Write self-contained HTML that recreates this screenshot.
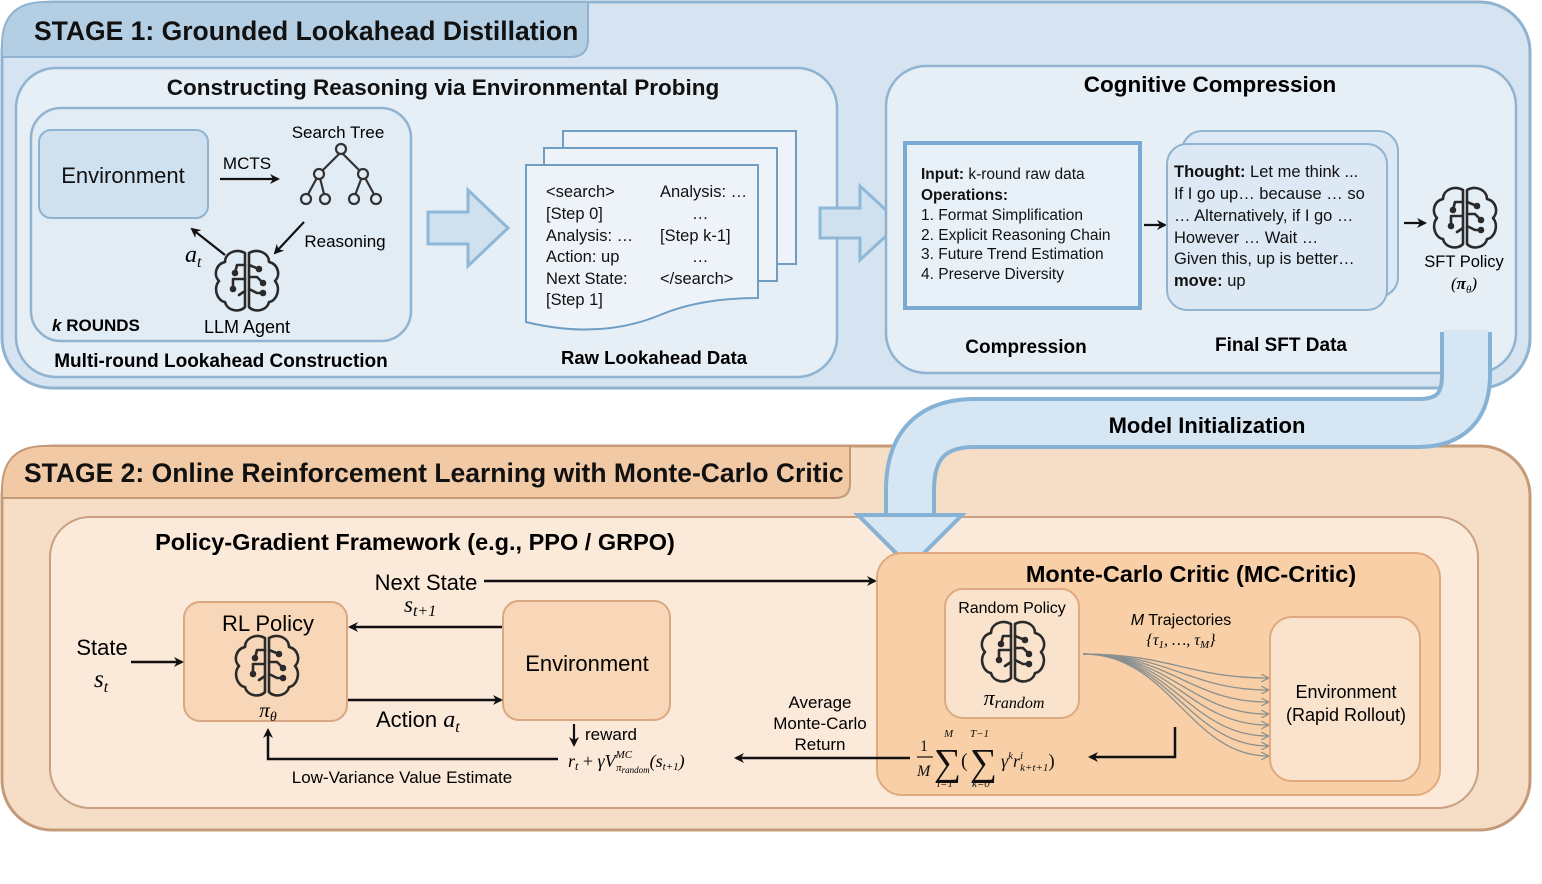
<!DOCTYPE html>
<html><head><meta charset="utf-8"><style>
html,body{margin:0;padding:0;background:#fff;}
svg{display:block;font-family:"Liberation Sans",sans-serif;}
.b{font-weight:bold;}
.m{font-family:"Liberation Serif",serif;font-style:italic;}
</style></head><body>
<svg width="1542" height="884" viewBox="0 0 1542 884" xmlns="http://www.w3.org/2000/svg">
<defs>
<marker id="ah" markerWidth="10" markerHeight="10" refX="8" refY="5" orient="auto" markerUnits="userSpaceOnUse"><path d="M0,0 L10,5 L0,10 L3,5 Z" fill="#111"/></marker>
<marker id="ag" markerWidth="8" markerHeight="8" refX="7" refY="4" orient="auto" markerUnits="userSpaceOnUse"><path d="M0,0 L8,4 L0,8" fill="none" stroke="#8a9090" stroke-width="1.2"/></marker>
<g id="brain" fill="none" stroke="#2a2a2a" stroke-width="2.6" stroke-linecap="round" stroke-linejoin="round">
<path d="M-2,-28 C-11,-33 -22,-28 -22,-19 C-31,-17 -34,-6 -28,0 C-34,7 -30,20 -22,21 C-20,30 -7,32 -2,26 Z"/>
<path d="M2,-28 C11,-33 22,-28 22,-19 C31,-17 34,-6 28,0 C34,7 30,20 22,21 C20,30 7,32 2,26 Z"/>
<path d="M-2,-16 L-10,-16 L-12,-8 M-2,-2 L-14,-2 L-14,8 M-2,10 L-8,14 M2,-16 L12,-12 M2,-4 L10,-4 L16,2 M2,8 L10,12 L16,12"/>
<circle cx="-12" cy="-8" r="2"/><circle cx="-14" cy="8" r="2"/><circle cx="12" cy="-12" r="2"/><circle cx="16" cy="2" r="2"/><circle cx="16" cy="12" r="2"/>
</g>
</defs>

<!-- STAGE 1 -->
<rect x="2" y="2" width="1528" height="386" rx="50" fill="#d5e4f0" stroke="#8fb3d0" stroke-width="3"/>
<path d="M2,55 L2,45 Q2,2 45,2 L588,2 L588,40 Q588,57 570,57 L2,57 Z" fill="#b4cfe4" stroke="#8fb3d0" stroke-width="2"/>
<text x="34" y="40" font-size="26.5" class="b" fill="#111">STAGE 1: Grounded Lookahead Distillation</text>

<rect x="16" y="68" width="821" height="309" rx="40" fill="#e6eef6" stroke="#8fb3d0" stroke-width="2.5"/>
<text x="443" y="95" font-size="22.5" class="b" text-anchor="middle" fill="#111">Constructing Reasoning via Environmental Probing</text>
<rect x="31" y="108" width="380" height="233" rx="30" fill="#e2ecf5" stroke="#8fb3d0" stroke-width="2.5"/>
<rect x="39" y="130" width="169" height="88" rx="12" fill="#cfe0ee" stroke="#8fb3d0" stroke-width="2"/>
<text x="123" y="183" font-size="22" text-anchor="middle" fill="#111">Environment</text>
<text x="247" y="169" font-size="17" text-anchor="middle">MCTS</text>
<line x1="220" y1="179" x2="278" y2="179" stroke="#111" stroke-width="2.2" marker-end="url(#ah)"/>
<text x="338" y="138" font-size="17" text-anchor="middle">Search Tree</text>
<g fill="none" stroke="#333" stroke-width="2.2">
<line x1="341" y1="152" x2="319" y2="174"/><line x1="341" y1="152" x2="363" y2="174"/>
<line x1="319" y1="174" x2="306" y2="198"/><line x1="319" y1="174" x2="325" y2="198"/>
<line x1="363" y1="174" x2="354" y2="198"/><line x1="363" y1="174" x2="376" y2="198"/>
<g fill="#e2ecf5"><circle cx="341" cy="149" r="5"/><circle cx="319" cy="174" r="5"/><circle cx="363" cy="174" r="5"/>
<circle cx="306" cy="199" r="5"/><circle cx="325" cy="199" r="5"/><circle cx="354" cy="199" r="5"/><circle cx="376" cy="199" r="5"/></g>
</g>
<line x1="304" y1="222" x2="275" y2="253" stroke="#111" stroke-width="2.2" marker-end="url(#ah)"/>
<text x="345" y="247" font-size="17" text-anchor="middle">Reasoning</text>
<line x1="225" y1="255" x2="192" y2="229" stroke="#111" stroke-width="2.2" marker-end="url(#ah)"/>
<text x="185" y="262" font-size="24" class="m">a<tspan font-size="16" dy="5">t</tspan></text>
<use href="#brain" x="247" y="281"/>
<text x="247" y="333" font-size="18" text-anchor="middle">LLM Agent</text>
<text x="52" y="331" font-size="17" class="b"><tspan font-style="italic">k</tspan> ROUNDS</text>
<text x="221" y="367" font-size="19" class="b" text-anchor="middle">Multi-round Lookahead Construction</text>

<polygon points="428,212 468,212 468,190 508,228 468,266 468,244 428,244" fill="#cfe0ee" stroke="#8fb8d8" stroke-width="3"/>

<rect x="563" y="131" width="233" height="133" fill="#eef3f9" stroke="#6f9dc4" stroke-width="2"/>
<rect x="544" y="148" width="233" height="133" fill="#eef3f9" stroke="#6f9dc4" stroke-width="2"/>
<path d="M526,165 L758,165 L758,298 Q700,298 660,315 Q600,340 526,322 Z" fill="#eef3f9" stroke="#6f9dc4" stroke-width="2"/>
<g font-size="16.5" fill="#111">
<text x="546" y="197">&lt;search&gt;</text><text x="546" y="219">[Step 0]</text><text x="546" y="241">Analysis: …</text>
<text x="546" y="262">Action: up</text><text x="546" y="284">Next State:</text><text x="546" y="305">[Step 1]</text>
<text x="660" y="197">Analysis: …</text><text x="692" y="219">…</text><text x="660" y="241">[Step k-1]</text>
<text x="692" y="262">…</text><text x="660" y="284">&lt;/search&gt;</text>
</g>
<text x="654" y="364" font-size="18.5" class="b" text-anchor="middle">Raw Lookahead Data</text>

<polygon points="820,208 860,208 860,186 900,223 860,260 860,238 820,238" fill="#cfe0ee" stroke="#8fb8d8" stroke-width="3"/>

<rect x="886" y="66" width="630" height="307" rx="40" fill="#e6eef6" stroke="#8fb3d0" stroke-width="2.5"/>
<text x="1210" y="92" font-size="22.5" class="b" text-anchor="middle">Cognitive Compression</text>
<rect x="905" y="143" width="235" height="165" fill="#e9f1f8" stroke="#7aaad2" stroke-width="4"/>
<g font-size="15.5" fill="#111">
<text x="921" y="179"><tspan class="b">Input:</tspan> k-round raw data</text>
<text x="921" y="200" class="b">Operations:</text>
<text x="921" y="220">1. Format Simplification</text>
<text x="921" y="240">2. Explicit Reasoning Chain</text>
<text x="921" y="259">3. Future Trend Estimation</text>
<text x="921" y="279">4. Preserve Diversity</text>
</g>
<line x1="1144" y1="225" x2="1165" y2="225" stroke="#111" stroke-width="2.2" marker-end="url(#ah)"/>
<rect x="1182" y="131" width="216" height="166" rx="20" fill="#dce8f4" stroke="#8fb3d0" stroke-width="2"/>
<rect x="1167" y="144" width="220" height="166" rx="20" fill="#dce8f4" stroke="#8fb3d0" stroke-width="2"/>
<g font-size="16.5" fill="#111">
<text x="1174" y="177"><tspan class="b">Thought:</tspan> Let me think ...</text>
<text x="1174" y="199">If I go up… because … so</text>
<text x="1174" y="221">… Alternatively, if I go …</text>
<text x="1174" y="243">However … Wait …</text>
<text x="1174" y="264">Given this, up is better…</text>
<text x="1174" y="286"><tspan class="b">move:</tspan> up</text>
</g>
<line x1="1404" y1="223" x2="1425" y2="223" stroke="#111" stroke-width="2.2" marker-end="url(#ah)"/>
<use href="#brain" x="1465" y="218"/>
<text x="1464" y="267" font-size="16.5" text-anchor="middle">SFT Policy</text>
<text x="1464" y="289" font-size="17" text-anchor="middle" class="m">(<tspan class="b">π</tspan><tspan font-size="11" dy="4">θ</tspan><tspan dy="-4">)</tspan></text>
<text x="1026" y="353" font-size="19" class="b" text-anchor="middle">Compression</text>
<text x="1281" y="351" font-size="19" class="b" text-anchor="middle">Final SFT Data</text>

<!-- STAGE 2 -->
<rect x="2" y="446" width="1528" height="384" rx="50" fill="#f5ddc6" stroke="#c49a78" stroke-width="3"/>
<path d="M2,498 L2,490 Q2,446 45,446 L850,446 L850,484 Q850,498 835,498 Z" fill="#f1caa5" stroke="#c49a78" stroke-width="2"/>
<text x="24" y="482" font-size="26.5" class="b" fill="#111">STAGE 2: Online Reinforcement Learning with Monte-Carlo Critic</text>

<rect x="50" y="517" width="1428" height="291" rx="40" fill="#fbe9da" stroke="#c9a080" stroke-width="2"/>
<text x="415" y="550" font-size="23.5" class="b" text-anchor="middle">Policy-Gradient Framework (e.g., PPO / GRPO)</text>

<path d="M1466,332 L1466,375 Q1466,423 1418,423 L975,423 Q910,423 910,490 L910,520" fill="none" stroke="#86b2d6" stroke-width="52"/>
<path d="M1466,330 L1466,375 Q1466,423 1418,423 L975,423 Q910,423 910,490 L910,522" fill="none" stroke="#d6e6f3" stroke-width="44"/>
<polygon points="858,515 962,515 910,567" fill="#d6e6f3" stroke="#86b2d6" stroke-width="4"/>
<text x="1207" y="433" font-size="22" class="b" text-anchor="middle">Model Initialization</text>

<rect x="184" y="602" width="163" height="119" rx="16" fill="#f8d7b8" stroke="#d9a880" stroke-width="2"/>
<text x="268" y="631" font-size="22" text-anchor="middle">RL Policy</text>
<use href="#brain" x="267" y="666"/>
<text x="268" y="717" font-size="21" text-anchor="middle" class="m">π<tspan font-size="14" dy="4">θ</tspan></text>
<text x="102" y="655" font-size="22" text-anchor="middle">State</text>
<text x="94" y="687" font-size="25" class="m">s<tspan font-size="16" dy="5">t</tspan></text>
<line x1="131" y1="662" x2="182" y2="662" stroke="#111" stroke-width="2.5" marker-end="url(#ah)"/>

<rect x="503" y="601" width="167" height="119" rx="16" fill="#f8d7b8" stroke="#d9a880" stroke-width="2"/>
<text x="587" y="671" font-size="22" text-anchor="middle">Environment</text>
<line x1="502" y1="627" x2="350" y2="627" stroke="#111" stroke-width="2.5" marker-end="url(#ah)"/>
<text x="426" y="590" font-size="22" text-anchor="middle">Next State</text>
<text x="404" y="612" font-size="23" class="m">s<tspan font-size="16" dy="4">t+1</tspan></text>
<line x1="484" y1="581" x2="875" y2="581" stroke="#111" stroke-width="2.5" marker-end="url(#ah)"/>
<line x1="348" y1="700" x2="501" y2="700" stroke="#111" stroke-width="2.5" marker-end="url(#ah)"/>
<text x="376" y="727" font-size="22">Action <tspan class="m" font-size="24">a</tspan><tspan class="m" font-size="16" dy="5">t</tspan></text>
<line x1="574" y1="724" x2="574" y2="745" stroke="#111" stroke-width="2.2" marker-end="url(#ah)"/>
<text x="585" y="740" font-size="17">reward</text>
<text x="568" y="767" font-size="18" class="m">r<tspan font-size="12" dy="3">t</tspan><tspan dy="-3" font-style="normal"> + </tspan>γV<tspan font-size="11" dy="-9">MC</tspan><tspan font-size="11" dx="-16" dy="13">π</tspan><tspan font-size="9" dy="2">random</tspan><tspan dy="-6">(s</tspan><tspan font-size="11" dy="3">t+1</tspan><tspan dy="-3">)</tspan></text>
<polyline points="558,759 268,759 268,730" fill="none" stroke="#111" stroke-width="2.5" marker-end="url(#ah)"/>
<text x="402" y="783" font-size="17" text-anchor="middle">Low-Variance Value Estimate</text>
<text x="820" y="708" font-size="17" text-anchor="middle">Average</text>
<text x="820" y="729" font-size="17" text-anchor="middle">Monte-Carlo</text>
<text x="820" y="750" font-size="17" text-anchor="middle">Return</text>

<rect x="877" y="553" width="563" height="242" rx="25" fill="#f8cfa6" stroke="#e0aa80" stroke-width="2"/>
<line x1="910" y1="758" x2="736" y2="758" stroke="#111" stroke-width="2.5" marker-end="url(#ah)"/>
<text x="1191" y="582" font-size="23.5" class="b" text-anchor="middle">Monte-Carlo Critic (MC-Critic)</text>
<rect x="945" y="589" width="134" height="129" rx="18" fill="#fae3cd" stroke="#e0aa80" stroke-width="2"/>
<text x="1012" y="613" font-size="16" text-anchor="middle">Random Policy</text>
<use href="#brain" x="1013" y="652"/>
<text x="1014" y="705" font-size="22" text-anchor="middle" class="m">π<tspan font-size="16" dy="3">random</tspan></text>
<text x="1181" y="625" font-size="16" text-anchor="middle"><tspan font-style="italic">M</tspan> Trajectories</text>
<text x="1181" y="645" font-size="16" text-anchor="middle" class="m">{τ<tspan font-size="11" dy="3">1</tspan><tspan dy="-3">, …, τ</tspan><tspan font-size="11" dy="3">M</tspan><tspan dy="-3">}</tspan></text>
<rect x="1270" y="617" width="150" height="164" rx="22" fill="#fae3cd" stroke="#e0aa80" stroke-width="2"/>
<text x="1346" y="698" font-size="18" text-anchor="middle">Environment</text>
<text x="1346" y="721" font-size="18" text-anchor="middle">(Rapid Rollout)</text>
<g fill="none" stroke="#8a9090" stroke-width="1.3">
<path d="M1083,654 C1170,654 1190,678 1268,678" marker-end="url(#ag)"/>
<path d="M1083,654 C1170,654 1190,690 1268,690" marker-end="url(#ag)"/>
<path d="M1083,654 C1170,654 1190,702 1268,702" marker-end="url(#ag)"/>
<path d="M1083,654 C1170,654 1190,714 1268,714" marker-end="url(#ag)"/>
<path d="M1083,654 C1170,654 1190,725 1268,725" marker-end="url(#ag)"/>
<path d="M1083,654 C1170,654 1190,736 1268,736" marker-end="url(#ag)"/>
<path d="M1083,654 C1170,654 1190,746 1268,746" marker-end="url(#ag)"/>
<path d="M1083,654 C1170,654 1190,756 1268,756" marker-end="url(#ag)"/>
</g>
<polyline points="1175,727 1175,757 1090,757" fill="none" stroke="#111" stroke-width="2.5" marker-end="url(#ah)"/>
<g class="m" fill="#111">
<text x="920" y="751" font-size="16" font-style="normal">1</text>
<line x1="917" y1="757" x2="933" y2="757" stroke="#111" stroke-width="1.2"/>
<text x="917" y="776" font-size="16">M</text>
<text x="934" y="775" font-size="38" font-style="normal">∑</text>
<text x="944" y="737" font-size="11">M</text>
<text x="937" y="787" font-size="11">i=1</text>
<text x="961" y="767" font-size="20" font-style="normal">(</text>
<text x="970" y="775" font-size="38" font-style="normal">∑</text>
<text x="970" y="737" font-size="11">T−1</text>
<text x="972" y="787" font-size="11">k=0</text>
<text x="1001" y="767" font-size="18">γ<tspan font-size="11" dy="-8">k</tspan><tspan dy="8">r</tspan><tspan font-size="11" dy="-8">i</tspan><tspan font-size="11" dx="-3" dy="12">k+t+1</tspan><tspan font-size="19" font-style="normal" dy="-4">)</tspan></text>
</g>
</svg>
</body></html>
